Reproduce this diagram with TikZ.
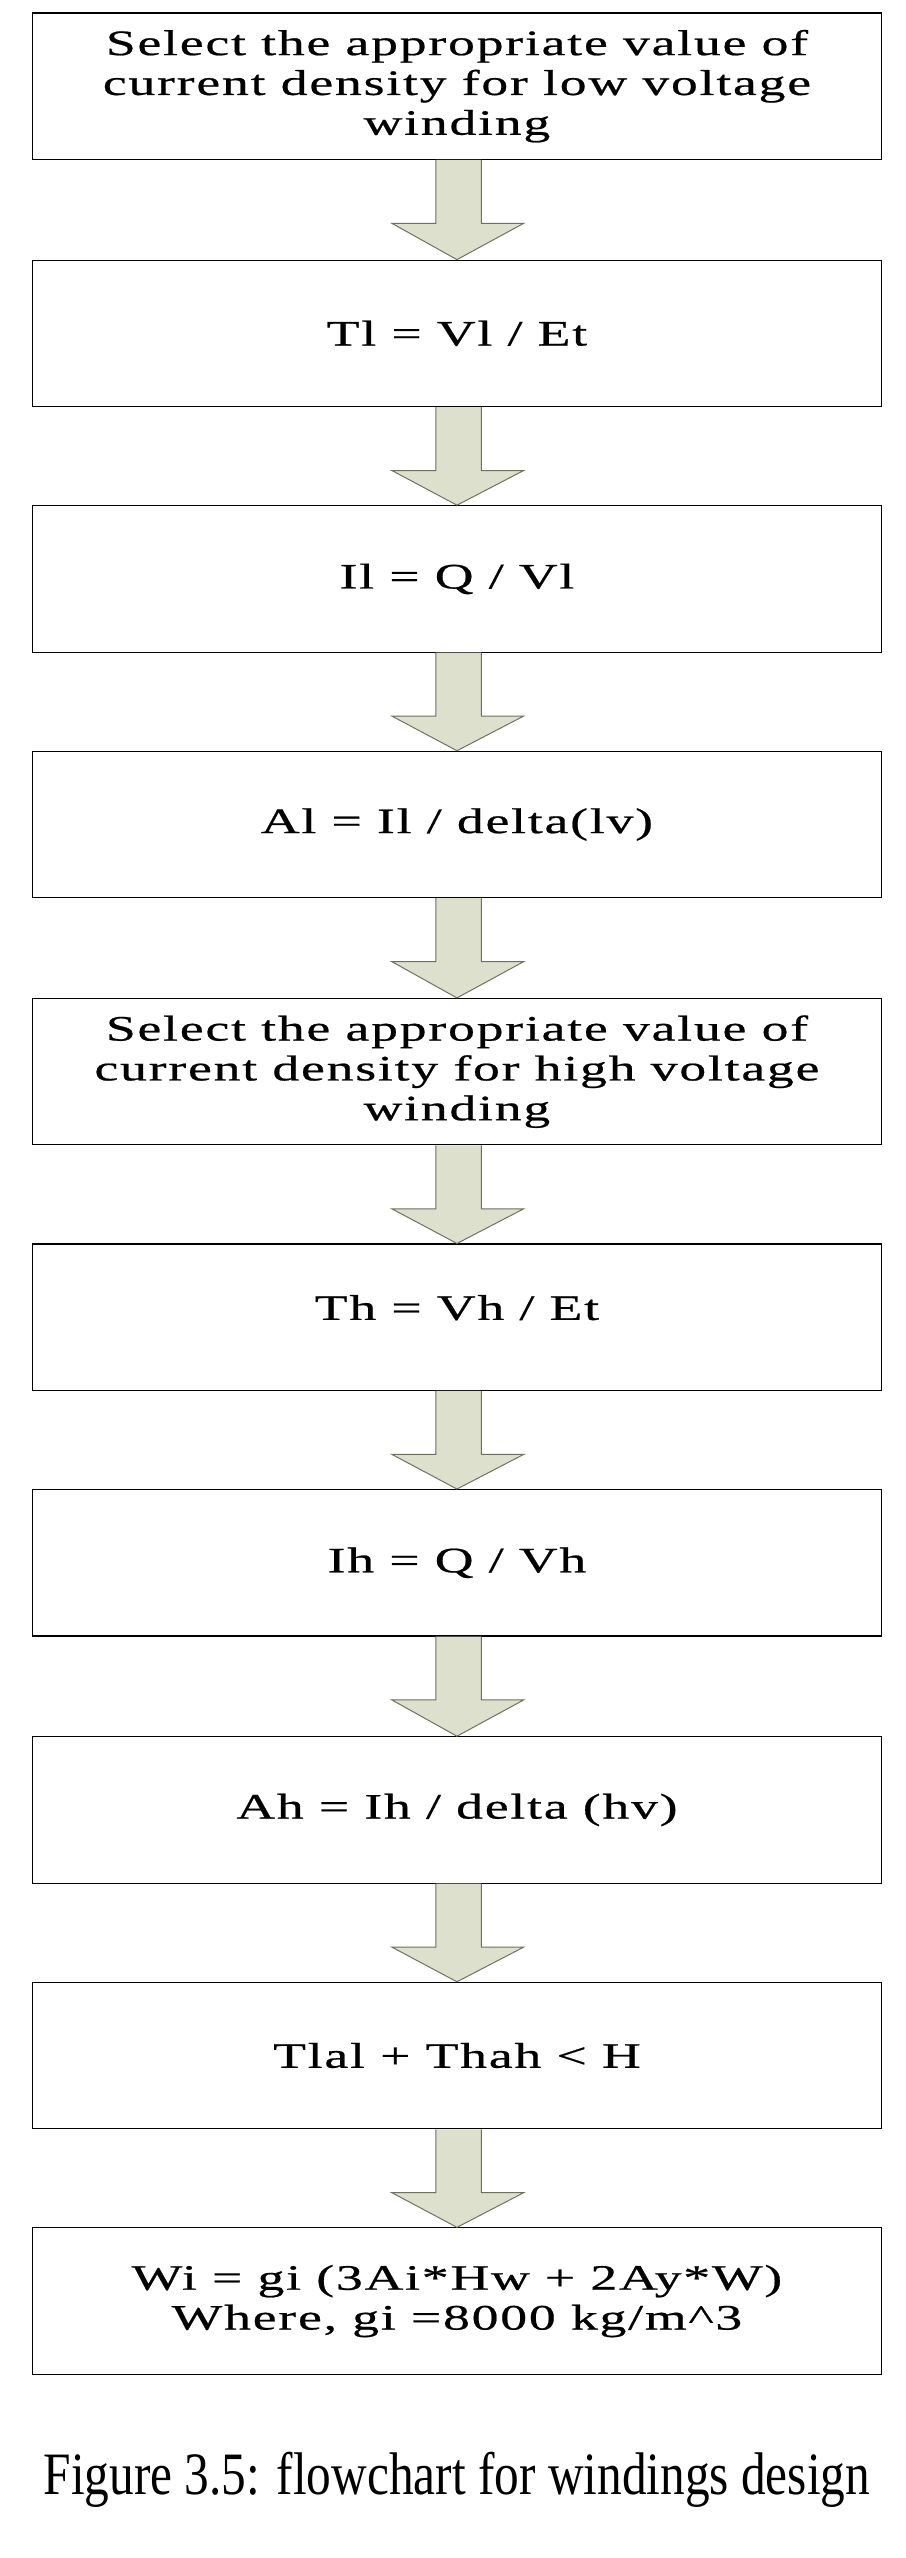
\documentclass[tikz,border=0pt]{standalone}
\usepackage{fontspec}
\setmainfont{Liberation Serif}
\newfontfamily\boxfont[FakeStretch=1.5,LetterSpace=5,FakeBold=0.6]{Liberation Serif}
\newfontfamily\capfont[FakeStretch=0.82]{Liberation Serif}
\usetikzlibrary{calc}
\definecolor{arrfill}{HTML}{DDE0CC}
\definecolor{arredge}{HTML}{6E7060}
\begin{document}
\begin{tikzpicture}[x=1pt,y=1pt,
  stepbox/.style={draw=black,line width=0.7pt,minimum width=522pt,minimum height=90pt,inner sep=0pt,align=center,font=\boxfont\fontsize{22}{24.5}\selectfont},
  fatarrow/.style={fill=arrfill,draw=arredge,line width=0.6pt}]
\useasboundingbox (0,0) rectangle (557,-1573);
\fill[white] (0,0) rectangle (557,-1573);
\node[stepbox] (b1) at (281,-53) {Select the appropriate value of\\current density for low voltage\\winding};
\node[stepbox] (b2) at (281,-205) {Tl = Vl / Et};
\node[stepbox] (b3) at (281,-356) {Il = Q / Vl};
\node[stepbox] (b4) at (281,-507) {Al = Il / delta(lv)};
\node[stepbox] (b5) at (281,-659) {Select the appropriate value of\\current density for high voltage\\winding};
\node[stepbox] (b6) at (281,-810) {\raisebox{12pt}{Th = Vh / Et}};
\node[stepbox] (b7) at (281,-961) {Ih = Q / Vh};
\node[stepbox] (b8) at (281,-1113) {Ah = Ih / delta (hv)};
\node[stepbox] (b9) at (281,-1264) {Tlal + Thah < H};
\node[stepbox] (b10) at (281,-1415) {Wi = gi (3Ai*Hw + 2Ay*W)\\Where, gi =8000 kg/m\^{}3};
\foreach \a/\b in {b1/b2,b2/b3,b3/b4,b4/b5,b5/b6,b6/b7,b7/b8,b8/b9,b9/b10}{
  \draw[fatarrow] ($(\a.south)+(-13,0)$) -- ($(\a.south)+(-13,-39)$) -- ($(\a.south)+(-40,-39)$)
    -- (\b.north) -- ($(\a.south)+(41,-39)$) -- ($(\a.south)+(15,-39)$) -- ($(\a.south)+(15,0)$);
}
\node[font=\capfont\fontsize{37}{40}\selectfont] (cap) at (281,-1525) {Figure 3.5: flowchart for windings design};
\end{tikzpicture}
\end{document}
